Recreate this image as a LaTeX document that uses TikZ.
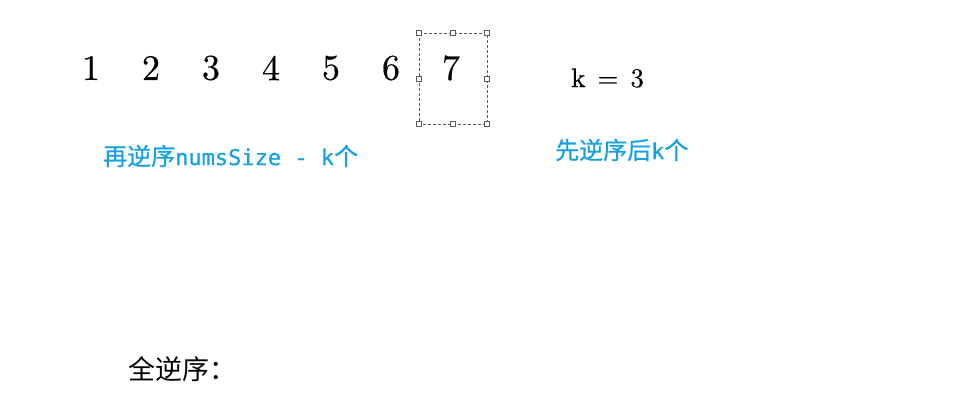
\documentclass[tikz,border=0pt]{standalone}
\usepackage{fontspec}
\newfontfamily\cjk{Noto Sans CJK SC}
\newfontfamily\cjkb[FakeBold=0.6]{Noto Sans CJK SC}
\newfontfamily\cjkmono[FakeBold=0.6]{DejaVu Sans Mono}
\newfontfamily\lmten[FakeBold=0.5]{lmroman10-regular.otf}
\definecolor{cblue}{RGB}{20,160,225}
\definecolor{hgray}{RGB}{90,90,90}
\tikzset{
  digit/.style={inner sep=0pt, font=\lmten\fontsize{36}{40}\selectfont},
  bluetxt/.style={inner sep=0pt, text=cblue, anchor=west},
  handle/.style={draw=hgray, fill=white, minimum size=5pt, inner sep=0pt, line width=0.6pt},
}
\begin{document}
\begin{tikzpicture}[x=1pt,y=-1pt]
\useasboundingbox (0,0) rectangle (970,412);
\foreach \n/\x in {1/91,2/151,3/211,4/271,5/331,6/391,7/451}
  \node[digit] (d\n) at (\x,68) {\n};
\coordinate (b1) at (419,33);
\coordinate (b2) at (487,124);
\draw[hgray, dashed, dash pattern=on 3pt off 2pt, line width=0.7pt] (b1) rectangle (b2);
\foreach \p in {(419,33),(453,33),(487,33),(419,78.5),(487,78.5),(419,124),(453,124),(487,124)}
  \node[handle] at \p {};
\node[inner sep=0pt, anchor=west, font=\lmten\fontsize{27}{30}\selectfont] (k) at (571,78) {k\hspace{12pt}=\hspace{12pt}3};
\node[bluetxt] (t1) at (103,156) {\cjkb\fontsize{24}{26}\selectfont 再逆序\cjkmono\fontsize{22}{26}\selectfont numsSize - k\cjkb\fontsize{24}{26}\selectfont 个};
\node[bluetxt] (t2) at (555,150) {\cjkb\fontsize{24}{26}\selectfont 先逆序后\cjkmono\fontsize{22}{26}\selectfont k\cjkb\fontsize{24}{26}\selectfont 个};
\node[inner sep=0pt, anchor=west] (t3) at (128,369) {\cjk\fontsize{27}{30}\selectfont 全逆序：};
\end{tikzpicture}
\end{document}
